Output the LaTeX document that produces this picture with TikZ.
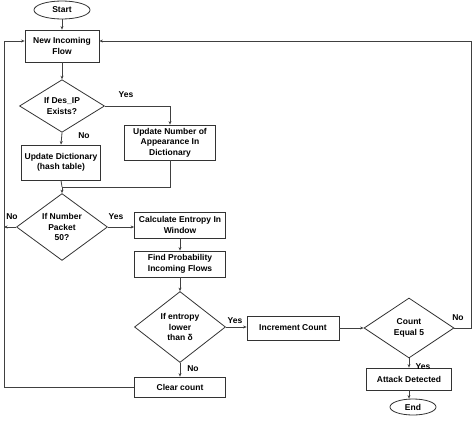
\documentclass[tikz,border=0pt]{standalone}
\usepackage{fontspec}
\setmainfont{Liberation Sans}
\usetikzlibrary{shapes.geometric,arrows.meta}
\begin{document}
\begin{tikzpicture}[x=1pt,y=-1pt,
  font=\bfseries\fontsize{8.5}{10.5}\selectfont,
  line width=0.8pt,
  box/.style={draw=black!80,rectangle,inner sep=0pt,align=center},
  dia/.style={draw=black!80,diamond,inner sep=0pt,align=center},
  term/.style={draw=black!80,ellipse,inner sep=0pt},
  arr/.style={draw=black!75,-{Stealth[length=3.5pt,width=3pt]}},
  ln/.style={draw=black!75},
  lbl/.style={inner sep=0pt}]
\useasboundingbox (0,0) rectangle (474,434);
\node[term,minimum width=56pt,minimum height=18pt] (start) at (62,10) {Start};
\node[box,minimum width=74pt,minimum height=32pt] (nif) at (62,46) {New Incoming\\Flow};
\node[dia,minimum width=85pt,minimum height=48pt] (d1) at (62,106) {If Des\_IP\\Exists?};
\node[box,minimum width=79pt,minimum height=35pt] (upd) at (61,162.5) {Update Dictionary\\(hash table)};
\node[box,minimum width=91pt,minimum height=35pt] (upn) at (170,142.5) {Update Number of\\Appearance In\\Dictionary};
\node[dia,minimum width=91pt,minimum height=61pt] (d2) at (62,227) {If Number\\Packet\\50?};
\node[box,minimum width=91pt,minimum height=26pt] (calc) at (180,225) {Calculate Entropy In\\Window};
\node[box,minimum width=91pt,minimum height=26pt] (find) at (180,264) {Find Probability\\Incoming Flows};
\node[dia,minimum width=91pt,minimum height=71pt] (d3) at (180,327) {If entropy\\lower\\than δ};
\node[box,minimum width=92pt,minimum height=24pt] (inc) at (293,328) {Increment Count};
\node[box,minimum width=91pt,minimum height=20pt] (clr) at (180,387) {Clear count};
\node[dia,minimum width=90pt,minimum height=60pt] (d4) at (409,328) {Count\\Equal 5};
\node[box,minimum width=85pt,minimum height=22pt] (att) at (409,379) {Attack Detected};
\node[term,minimum width=46pt,minimum height=16pt] (end) at (413,407) {End};
\coordinate (merge) at (62,187);
\coordinate (lx) at (4,41);
\coordinate (rx) at (471,41);
% connectors
\draw[arr] (start) -- (nif);
\draw[arr] (nif) -- (d1);
\draw[arr] (d1.east) -| (upn.north);
\node[lbl] at (126,95) {Yes};
\draw[arr] (d1.south) -- (upd.north);
\node[lbl] at (84,136) {No};
\draw[ln] (upd.south) -- (merge);
\draw[ln] (upn.south) |- (merge);
\draw[arr] (merge) -- (d2.north);
\draw[arr] (d2.west) -- (d2.west -| lx);
\node[lbl] at (12,217) {No};
\draw[arr] (d2.east) -- (calc.west |- d2.east);
\node[lbl] at (116,217) {Yes};
\draw[arr] (calc) -- (find);
\draw[arr] (find) -- (d3);
\draw[arr] (d3.east) -- (inc.west |- d3.east);
\node[lbl] at (235,321) {Yes};
\draw[arr] (d3.south) -- (clr.north);
\node[lbl] at (193,369) {No};
\draw[arr] (clr.west) -| (lx) -- (lx -| nif.west);
\draw[arr] (inc.east) -- (d4.west);
\draw[arr] (d4.east) -| (rx) -- (rx -| nif.east);
\node[lbl] at (458,318) {No};
\draw[arr] (d4.south) -- (att.north);
\node[lbl] at (423,367) {Yes};
\draw[arr] (att.south) -- (att.south |- end.north);
\end{tikzpicture}
\end{document}
